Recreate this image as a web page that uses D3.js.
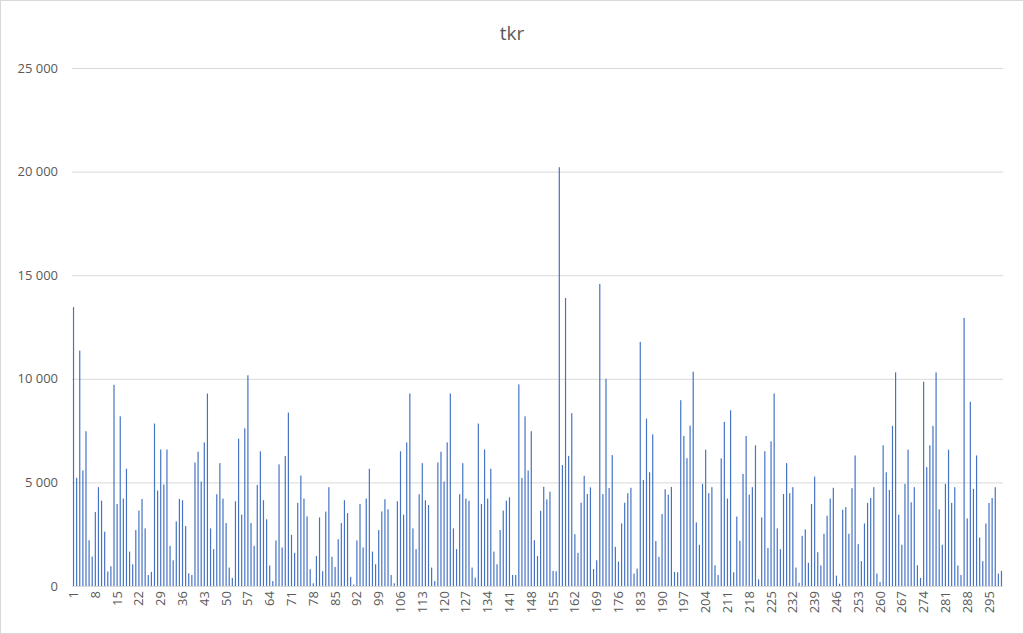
<!DOCTYPE html>
<html>
<head>
<meta charset="utf-8">
<script src="https://cdn.jsdelivr.net/npm/d3@7"></script>
<style>
  html, body { margin: 0; padding: 0; background: #fff; }
  svg { display: block; }
  text { font-family: "Open Sans", "Noto Sans", "Liberation Sans", sans-serif; fill: #595959; }
</style>
</head>
<body>
<svg id="chart" width="1024" height="634"></svg>
<script>
const chartTitle = "tkr";

const values = [
  13460, 5220, 11360, 5575, 7470, 2210, 1420, 3570, 4770, 4120,
  2620, 700, 950, 9710, 3960, 8190, 4220, 5660, 1660, 1050,
  2700, 3640, 4200, 2780, 530, 680, 7840, 4610, 6590, 4900,
  6590, 1940, 1240, 3120, 4200, 4140, 2890, 610, 530, 5960,
  6480, 5040, 6930, 9290, 2780, 1780, 4430, 5930, 4220, 3040,
  890, 390, 4090, 7110, 3440, 7610, 10170, 3040, 1940, 4880,
  6500, 4140, 3220, 990, 240, 2200, 5870, 1860, 6270, 8370,
  2470, 1600, 4010, 5330, 4220, 3360, 810, 130, 1450, 3310,
  710, 3590, 4770, 1410, 920, 2260, 3040, 4140, 3520, 440,
  70, 2200, 3960, 1860, 4220, 5660, 1660, 1050, 2700, 3600,
  4190, 3700, 530, 130, 4090, 6500, 3440, 6930, 9290, 2780,
  1780, 4430, 5930, 4140, 3910, 890, 240, 5960, 6480, 5040,
  6930, 9290, 2780, 1780, 4430, 5930, 4220, 4120, 890, 400,
  7840, 3960, 6590, 4220, 5660, 1660, 1050, 2700, 3640, 4120,
  4280, 530, 530, 9730, 5220, 8190, 5575, 7470, 2210, 1450,
  3630, 4790, 4180, 4550, 730, 710, 20210, 5840, 13900, 6280,
  8340, 2500, 1600, 4020, 5320, 4440, 4760, 820, 1240, 14580,
  4440, 10000, 4730, 6320, 1890, 1180, 3020, 4020, 4480, 4740,
  600, 840, 11780, 5120, 8080, 5490, 7320, 2170, 1410, 3470,
  4670, 4410, 4780, 680, 660, 8970, 7240, 6170, 7740, 10340,
  3070, 1990, 4930, 6580, 4480, 4770, 1000, 530, 6160, 7920,
  4220, 8480, 660, 3350, 2180, 5410, 7240, 4410, 4770, 6790,
  320, 3310, 6500, 1830, 6980, 9290, 2780, 1780, 4440, 5930,
  4480, 4770, 890, 160, 2420, 2730, 1120, 3960, 5280, 1630,
  990, 2520, 3390, 4220, 4740, 500, 110, 3680, 3810, 2520,
  4720, 6300, 2020, 1200, 3020, 4010, 4250, 4770, 600, 190,
  6790, 5490, 4640, 7730, 10310, 3440, 1990, 4930, 6580, 4040,
  4770, 1000, 390, 9860, 5740, 6790, 7730, 10310, 3700, 1990,
  4930, 6580, 4010, 4770, 990, 530, 12940, 3260, 8890, 4690,
  6300, 2340, 1200, 3020, 4010, 4250, 4770, 600, 730
];

const categories = d3.range(1, values.length + 1);

const xTickLabels = [1, 8, 15, 22, 29, 36, 43, 50, 57, 64, 71, 78, 85, 92, 99,
  106, 113, 120, 127, 134, 141, 148, 155, 162, 169, 176, 183, 190, 197, 204,
  211, 218, 225, 232, 239, 246, 253, 260, 267, 274, 281, 288, 295];

const yTickValues = [0, 5000, 10000, 15000, 20000, 25000];

const W = 1024, H = 634;
const plot = { left: 72, right: 1003, top: 68, bottom: 586 };

const svg = d3.select("#chart");

svg.append("rect")
  .attr("x", 0.5).attr("y", 0.5)
  .attr("width", W - 1).attr("height", H - 1)
  .attr("fill", "#fff").attr("stroke", "#d9d9d9");

const x = d3.scaleBand()
  .domain(categories)
  .range([plot.left, plot.right])
  .paddingInner(0.62)
  .paddingOuter(0.3);

const y = d3.scaleLinear()
  .domain([0, 25000])
  .range([plot.bottom, plot.top]);

const locale = d3.formatLocale({ decimal: ",", thousands: "\u00a0", grouping: [3], currency: ["", ""] });
const fmt = locale.format(",d");

const yAxis = d3.axisLeft(y)
  .tickValues(yTickValues)
  .tickSize(-(plot.right - plot.left))
  .tickPadding(14)
  .tickFormat(fmt);

const gy = svg.append("g")
  .attr("transform", `translate(${plot.left},0)`)
  .call(yAxis);
gy.select(".domain").remove();
gy.selectAll(".tick line").attr("stroke", "#d9d9d9").attr("stroke-width", 1);
gy.selectAll(".tick text")
  .attr("fill", "#595959")
  .style("font-size", "13px");

svg.append("g")
  .selectAll("rect")
  .data(values)
  .join("rect")
  .attr("x", (d, i) => x(categories[i]))
  .attr("width", x.bandwidth())
  .attr("y", d => y(d))
  .attr("height", d => y(0) - y(d))
  .attr("fill", "#4472c4");

svg.append("line")
  .attr("x1", plot.left).attr("x2", plot.right)
  .attr("y1", y(0) + 0.5).attr("y2", y(0) + 0.5)
  .attr("stroke", "#d9d9d9");

const xAxis = d3.axisBottom(x)
  .tickValues(xTickLabels)
  .tickSize(0)
  .tickPadding(0);

const gx = svg.append("g")
  .attr("transform", `translate(0,${plot.bottom})`)
  .call(xAxis);
gx.select(".domain").remove();
gx.selectAll(".tick text")
  .attr("fill", "#595959")
  .style("font-size", "13px")
  .attr("text-anchor", "end")
  .attr("transform", "rotate(-90)")
  .attr("x", -5)
  .attr("y", 0)
  .attr("dy", "0.35em");

svg.append("text")
  .attr("x", W / 2)
  .attr("y", 40)
  .attr("text-anchor", "middle")
  .style("font-size", "19px")
  .attr("fill", "#595959")
  .text(chartTitle);
</script>
</body>
</html>
